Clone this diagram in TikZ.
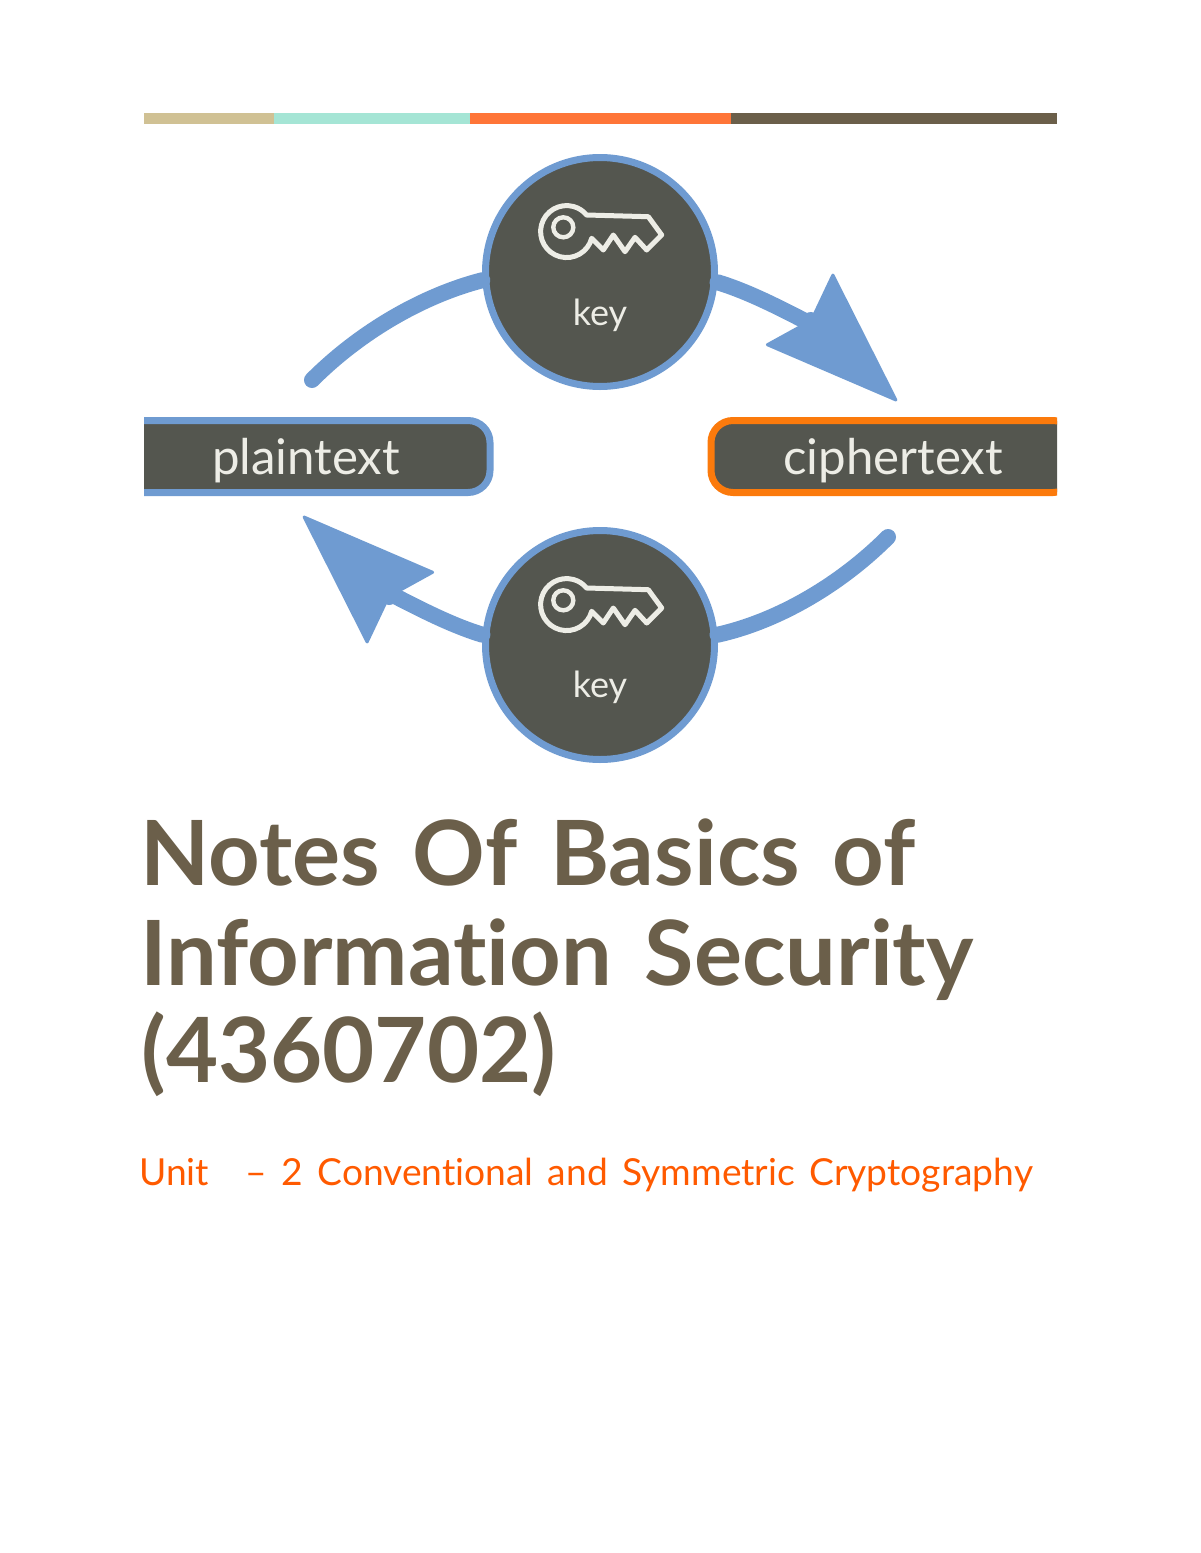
\documentclass[tikz,border=0pt]{standalone}
\usepackage{fontspec}
\usetikzlibrary{arrows.meta}
\newfontfamily\labelfont{Lato}
\newfontfamily\titlefont{Lato}[BoldFont={Lato Bold}, Ligatures=NoCommon, WordSpace=1.5]
\definecolor{tanbar}{HTML}{D0C194}
\definecolor{tealbar}{HTML}{A5E5D5}
\definecolor{orangebar}{HTML}{FF7538}
\definecolor{brownbar}{HTML}{6B5F4A}
\definecolor{flowblue}{HTML}{6F9BD1}
\definecolor{darkfill}{HTML}{54564F}
\definecolor{paletext}{HTML}{EDEDE6}
\definecolor{cipherorange}{HTML}{FB7A0C}
\definecolor{unitorange}{HTML}{FF5A00}
\tikzset{
    keynode/.style = {draw=flowblue, fill=darkfill, circle, line width=3.5pt, minimum size=114.5pt, inner sep=0pt},
    textbox/.style = {fill=darkfill, rounded corners=11pt, line width=3.5pt, minimum height=36pt, inner sep=0pt, text height=22.5pt, text depth=4.5pt, text=paletext, font=\labelfont\fontsize{24.6}{24.6}\selectfont},
    keylabel/.style = {text=paletext, font=\labelfont\fontsize{18}{18}\selectfont, inner sep=0pt},
    flow/.style = {draw=flowblue, line width=8pt, line cap=round},
    flowhead/.style = {-{Stealth[length=69pt, width=50pt, inset=8pt, round, line width=1.5pt]}},
    titleline/.style = {anchor=base west, inner sep=0pt, text=brownbar, font=\titlefont\bfseries\fontsize{45}{45}\selectfont},
    keyicon/.pic = {
        \draw[paletext, line width=2.5pt, line join=round] (-13.3,-57) -- (48.3,-55.3) -- (61.7,-37) -- (46.7,-22) -- (35,-34.7) -- (25,-20.3) -- (13.3,-37) -- (3.3,-22) -- (-8.3,-33.7) arc[start angle=15, end angle=320, radius=26] -- cycle;
        \draw[paletext, line width=2.2pt] (-36.7,-44.7) circle[radius=10];
    }
}
\begin{document}
\begin{tikzpicture}[x=0.5pt, y=-0.5pt]
    \useasboundingbox (0,0) rectangle (1200,1553);

    % colour strip
    \fill[tanbar] (144,113) rectangle (274,124);
    \fill[tealbar] (274,113) rectangle (470,124);
    \fill[orangebar] (470,113) rectangle (731,124);
    \fill[brownbar] (731,113) rectangle (1057,124);

    % keys
    \node[keynode] (keytop) at (600,272) {};
    \node[keynode] (keybottom) at (600,645) {};
    \pic at (keytop) {keyicon};
    \pic at (keybottom) {keyicon};
    \node[keylabel] (keytoplabel) at (600,315) {key};
    \node[keylabel] (keybottomlabel) at (600,687) {key};

    % boxes run off the strip's edges
    \begin{scope}
        \clip (144,400) rectangle (1057,510);
        \node[textbox, draw=flowblue, minimum width=184pt] (plain) at (306,456.5) {plaintext};
        \node[textbox, draw=cipherorange, minimum width=182pt] (cipher) at (893,456.5) {ciphertext};
    \end{scope}

    % arcs
    \coordinate (tipright) at (897,401);
    \coordinate (tipleft) at (303,516);
    \coordinate (endleft) at (312,380);
    \coordinate (endright) at (888,537);
    \draw[flow] (keytop.184) .. controls (425,295) and (362,330) .. (endleft);
    \draw[flow, flowhead] (keytop.-5) .. controls (770,298) and (830,338) .. (tipright);
    \draw[flow] (keybottom.5) .. controls (775,622) and (838,587) .. (endright);
    \draw[flow, flowhead] (keybottom.175) .. controls (430,619) and (370,579) .. (tipleft);

    % title
    \node[titleline] (title1) at (140,885) {Notes Of Basics of};
    \node[titleline] (title2) at (140,985) {Information Security};
    \node[titleline] (title3) at (141,1082) {(4360702)};
    \node[anchor=base west, inner sep=0pt, text=unitorange, font=\titlefont\fontsize{18.6}{18.6}\selectfont] (unit) at (139,1185) {Unit\ \ \hspace{4pt}– 2 Conventional and Symmetric Cryptography};
\end{tikzpicture}
\end{document}
